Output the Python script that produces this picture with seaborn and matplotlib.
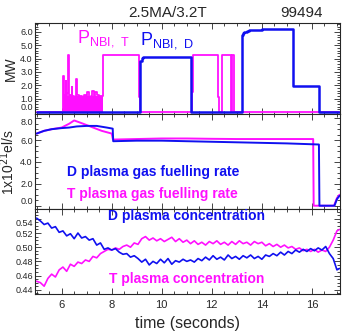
import numpy as np
import pandas as pd
import matplotlib
matplotlib.use("Agg")
import matplotlib.pyplot as plt
import seaborn as sns
from matplotlib.ticker import MultipleLocator, FormatStrFormatter

sns.set_style("ticks")
plt.rcParams['font.family'] = ['Liberation Sans', 'DejaVu Sans']

BLUE = "#1010f0"
PINK = "#ff10ff"

# NBI power (MW), step data
nbi_t_time = [5.0, 6.06, 6.09, 6.12, 6.16, 6.19, 6.23, 6.27, 6.30, 6.34, 6.40, 6.43, 6.50, 6.56,
              6.60, 6.68, 6.75, 6.82, 6.90, 6.97, 7.03, 7.08, 7.16, 7.22, 7.28, 7.34, 7.40, 7.48,
              7.66, 9.08, 9.12, 11.20, 11.25, 12.26, 12.30, 12.40, 12.76, 12.82, 12.90, 17.1]
nbi_t_power = [0, 2.7, 1.3, 1.2, 2.3, 1.2, 1.4, 4.3, 1.2, 1.3, 1.9, 1.2, 1.1, 2.5,
               1.3, 1.1, 1.2, 1.1, 1.3, 1.2, 1.5, 1.1, 1.2, 1.6, 1.2, 1.5, 1.3, 1.2,
               4.25, 1.1, 0, 1.5, 4.3, 1.1, 0, 4.25, 0, 4.25, 0, 0]
nbi_d_time = [5.0, 9.12, 9.15, 9.20, 9.27, 11.17, 13.20, 13.25, 13.30, 13.40, 13.50, 13.70,
              14.00, 15.26, 16.30, 17.1]
nbi_d_power = [0, 1.1, 3.8, 4.05, 4.15, 0, 5.8, 5.95, 6.0, 6.08, 6.13, 6.17,
               6.2, 1.95, 0, 0]

# gas fuelling rate (1e21 el/s)
fuel_d_time = [5.0, 5.3, 5.6, 6.0, 6.3, 6.6, 7.0, 7.4, 7.8, 8.04, 8.06, 9.0, 10.0, 11.0, 12.0,
               13.0, 14.0, 15.0, 16.28, 16.30, 16.90, 16.95, 17.0, 17.1]
fuel_d_rate = [6.6, 6.85, 7.0, 7.1, 7.15, 7.25, 7.3, 7.3, 7.15, 7.05, 5.9, 5.95, 5.95, 5.9, 5.85,
               5.8, 5.75, 5.7, 5.6, 0, 0, 0.3, 0.6, 0.9]
fuel_t_time = [5.0, 5.3, 5.6, 6.0, 6.3, 6.5, 6.8, 7.2, 7.6, 8.0, 8.05, 9.0, 10.0, 11.0, 12.0,
               13.0, 14.0, 15.0, 16.05, 16.07, 16.88, 16.95, 17.0, 17.1]
fuel_t_rate = [6.6, 6.85, 7.0, 7.15, 7.5, 7.8, 7.55, 7.2, 6.85, 6.6, 6.05, 6.1, 6.15, 6.15, 6.12,
               6.1, 6.1, 6.1, 6.1, 0, 0, 0.4, 0.7, 1.0]

# plasma concentration
conc_time = [5.00, 5.15, 5.30, 5.45, 5.60, 5.75, 5.90, 6.05, 6.20, 6.35, 6.50, 6.65, 6.80, 6.95,
             7.10, 7.25, 7.40, 7.55, 7.70, 7.85, 8.00, 8.15, 8.30, 8.45, 8.60, 8.75, 8.90, 9.05,
             9.20, 9.35, 9.50, 9.65, 9.80, 9.95, 10.10, 10.25, 10.40, 10.55, 10.70, 10.85, 11.00,
             11.15, 11.30, 11.45, 11.60, 11.75, 11.90, 12.05, 12.20, 12.35, 12.50, 12.65, 12.80,
             12.95, 13.10, 13.25, 13.40, 13.55, 13.70, 13.85, 14.00, 14.15, 14.30, 14.45, 14.60,
             14.75, 14.90, 15.05, 15.20, 15.35, 15.50, 15.65, 15.80, 15.95, 16.10, 16.25, 16.40,
             16.55, 16.70, 16.85, 17.00, 17.10]
conc_d = [.541, .537, .532, .534, .527, .529, .521, .523, .516, .519, .512, .520, .513, .515,
          .510, .512, .503, .506, .497, .499, .496, .498, .493, .490, .491, .486, .488, .484,
          .479, .483, .475, .480, .477, .483, .478, .484, .476, .481, .479, .483, .480,
          .482, .479, .484, .481, .486, .482, .488, .483, .486, .482, .489, .484,
          .487, .483, .488, .485, .489, .484, .487, .483, .489, .487, .491, .488,
          .493, .489, .494, .491, .496, .493, .497, .494, .498, .495, .499, .496,
          .501, .491, .484, .468, .470]
conc_t = [.452, .450, .445, .456, .462, .458, .468, .472, .466, .476, .473, .479, .477, .482,
          .480, .487, .485, .491, .494, .497, .496, .499, .497, .501, .503, .500, .506, .504,
          .512, .515, .510, .513, .509, .512, .508, .511, .514, .508, .512, .507, .510,
          .505, .509, .504, .507, .503, .508, .505, .509, .504, .507, .503, .508,
          .504, .509, .505, .507, .503, .508, .505, .507, .502, .505, .501, .504,
          .500, .503, .499, .501, .497, .499, .495, .497, .494, .497, .493, .496,
          .494, .500, .510, .523, .525]

XLIM = (4.93, 17.12)

fig = plt.figure(figsize=(3.42, 3.31), dpi=100)
ax1 = fig.add_axes([0.102, 0.6556, 0.892, 0.275])
ax2 = fig.add_axes([0.102, 0.3686, 0.892, 0.287])
ax3 = fig.add_axes([0.102, 0.1118, 0.892, 0.257])

# top: NBI power
spiky = [(t, p) for t, p in zip(nbi_t_time, nbi_t_power) if 6.0 < t < 7.7]
ax1.fill_between([s[0] for s in spiky], [min(s[1], 1.2) for s in spiky], step="post",
                 color=PINK, lw=0)
sns.lineplot(x=nbi_t_time, y=nbi_t_power, ax=ax1, color=PINK, lw=1.3,
             drawstyle="steps-post", estimator=None, sort=False)
sns.lineplot(x=nbi_d_time, y=nbi_d_power, ax=ax1, color=BLUE, lw=1.8,
             drawstyle="steps-post", estimator=None, sort=False)
ax1.set_ylim(-0.15, 6.675)
ax1.yaxis.set_major_locator(MultipleLocator(1.0))
ax1.yaxis.set_minor_locator(MultipleLocator(0.2))
ax1.yaxis.set_major_formatter(FormatStrFormatter("%.1f"))
ax1.set_ylabel("MW", fontsize=10, labelpad=2)
ax1.text(6.6, 5.2, r"P$_{\mathregular{NBI,\ T}}$", color=PINK, fontsize=13)
ax1.text(9.15, 5.05, r"P$_{\mathregular{NBI,\ D}}$", color=BLUE, fontsize=13)

# middle: gas fuelling
sns.lineplot(x=fuel_t_time, y=fuel_t_rate, ax=ax2, color=PINK, lw=1.4,
             estimator=None, sort=False)
sns.lineplot(x=fuel_d_time, y=fuel_d_rate, ax=ax2, color=BLUE, lw=1.4,
             estimator=None, sort=False)
ax2.set_ylim(-0.3, 8.39)
ax2.yaxis.set_major_locator(MultipleLocator(2.0))
ax2.yaxis.set_minor_locator(MultipleLocator(0.5))
ax2.yaxis.set_major_formatter(FormatStrFormatter("%.1f"))
ax2.set_ylabel(r"1x10$^{21}$el/s", fontsize=10, labelpad=2)
ax2.text(6.2, 2.75, "D plasma gas fuelling rate", color=BLUE, fontsize=10, fontweight="bold")
ax2.text(6.2, 0.75, "T plasma gas fuelling rate", color=PINK, fontsize=10, fontweight="bold")

# bottom: concentration
sns.lineplot(x=conc_time, y=conc_t, ax=ax3, color=PINK, lw=1.2, estimator=None, sort=False)
sns.lineplot(x=conc_time, y=conc_d, ax=ax3, color=BLUE, lw=1.2, estimator=None, sort=False)
ax3.set_ylim(0.434, 0.554)
ax3.yaxis.set_major_locator(MultipleLocator(0.02))
ax3.yaxis.set_minor_locator(MultipleLocator(0.005))
ax3.yaxis.set_major_formatter(FormatStrFormatter("%.2f"))
ax3.text(11.0, 0.5435, "D plasma concentration", color=BLUE, fontsize=10,
         fontweight="bold", ha="center", va="center")
ax3.text(11.0, 0.4555, "T plasma concentration", color=PINK, fontsize=10,
         fontweight="bold", ha="center", va="center")
ax3.set_xlabel("time (seconds)", fontsize=11.5, labelpad=5)

for ax in (ax1, ax2, ax3):
    ax.set_xlim(*XLIM)
    ax.xaxis.set_major_locator(MultipleLocator(2))
    ax.xaxis.set_minor_locator(MultipleLocator(0.5))
    ax.tick_params(which="both", direction="in", top=True, right=True, width=0.6,
                   labelsize=6.5, pad=1.5)
    ax.tick_params(which="major", length=4)
    ax.tick_params(which="minor", length=2)
    for sp in ax.spines.values():
        sp.set_linewidth(0.8)
    if ax is not ax3:
        ax.set_xlabel("")
        ax.tick_params(labelbottom=False)
ax3.tick_params(axis="x", labelsize=8, pad=4)

# keep the stacked edge labels (0.0 / 8.0) from sitting on top of each other
fig.canvas.draw()
for lab in ax1.get_yticklabels():
    if lab.get_text() == "0.0":
        lab.set_va("bottom")
for lab in ax2.get_yticklabels():
    if lab.get_text() in ("8.0",):
        lab.set_va("top")
    if lab.get_text() == "0.0":
        lab.set_va("bottom")
for lab in ax3.get_yticklabels():
    if lab.get_text() == "0.54":
        lab.set_va("top")

fig.text(0.49, 0.962, "2.5MA/3.2T", fontsize=11, ha="center", va="center")
fig.text(0.883, 0.962, "99494", fontsize=11, ha="center", va="center")

fig.savefig("out.png", dpi=100)
